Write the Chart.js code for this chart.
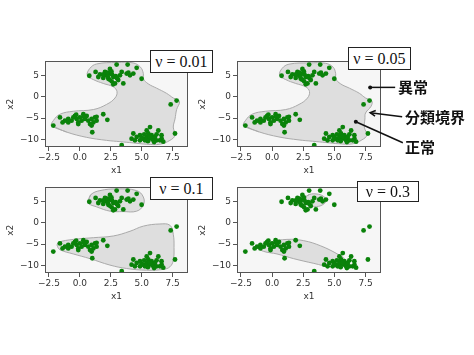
<!DOCTYPE html>
<html><head><meta charset="utf-8">
<script src="https://cdn.jsdelivr.net/npm/chart.js@4/dist/chart.umd.min.js"></script>
<style>
body{margin:0;width:474px;height:355px;background:#fff;position:relative;overflow:hidden;}
canvas{position:absolute;}
.nu{position:absolute;background:#fff;border:1px solid #222;font-family:'Liberation Serif',serif;font-size:16px;text-align:center;box-sizing:border-box;color:#111;white-space:nowrap}
.jp{position:absolute;font-family:'Noto Sans CJK JP',sans-serif;font-weight:bold;font-size:15px;line-height:15px;color:#111;white-space:nowrap}
</style></head><body>
<script>
// ---- data ----
const xTicks = [-2.5, 0, 2.5, 5, 7.5];
const yTicks = [-10, -5, 0, 5];
const nuLabels = ['ν = 0.01', 'ν = 0.05', 'ν = 0.1', 'ν = 0.3'];
const pointsX1 = [
  2.97,3.86,4.59,1.27,1.62,0.76,2.03,2.16,2.43,2.70,1.89,1.49,2.30,2.57,2.84,2.70,3.51,3.78,4.05,4.32,3.92,3.24,3.38,4.99,2.43,2.2,2.6,2.9,3.1,1.9,2.4,2.55,2.25,3.0,
  -2.15,-1.61,-1.21,-0.94,-0.67,-0.40,-0.26,-0.13,0.0,0.28,0.41,0.55,0.14,-0.13,0.95,1.09,1.22,1.35,0.95,1.35,1.89,2.22,1.0,-0.53,-0.94,0.68,0.82,-1.4,0.3,-0.3,
  3.38,4.32,4.59,4.86,5.13,5.40,5.67,5.53,5.80,6.07,6.34,6.61,6.47,6.74,7.69,4.18,4.45,4.86,5.26,5.53,5.80,5.94,6.20,5.40,5.67,4.99,7.34,7.82,6.2,6.6,5.2,6.0,5.5
];
const pointsX2 = [
  7.5,7.5,6.74,5.8,5.2,4.9,5.8,5.0,5.4,4.6,4.4,4.6,4.2,3.6,3.1,2.9,3.1,5.4,5.0,5.4,5.6,5.0,5.8,4.2,6.5,5.6,5.2,4.8,3.9,5.2,4.0,5.9,4.7,4.3,
  -6.74,-4.85,-5.6,-5.2,-5.6,-4.5,-5.2,-6.0,-4.85,-4.1,-5.2,-4.5,-5.6,-6.4,-5.2,-6.0,-4.85,-5.6,-6.74,-4.7,-4.1,-5.4,-8.3,-4.85,-6.0,-5.6,-6.4,-6.0,-4.6,-4.2,
  -11.3,-8.6,-9.4,-9.0,-9.8,-7.9,-7.1,-8.6,-9.0,-9.4,-7.9,-9.8,-10.2,-10.5,-8.6,-9.8,-10.2,-10.2,-10.2,-9.8,-9.8,-10.2,-10.2,-9.4,-9.4,-9.6,-1.8,-0.9,-8.8,-9.0,-8.8,-10.6,-10.4
];
const boundaryNu001 = [[-2.28,-6.74],[-1.07,-8.26],[0.55,-9.5],[2.16,-10.2],[3.24,-10.5],[4.32,-10.8],[5.40,-11.1],[6.47,-11.1],[7.28,-10.2],[7.69,-9.0],[7.55,-7.1],[7.69,-5.2],[7.82,-3.0],[8.05,-1.1],[7.55,-0.3],[7.0,0.8],[6.2,2.0],[5.53,3.0],[5.13,4.2],[5.13,5.4],[4.9,6.9],[4.3,7.9],[3.0,8.0],[1.35,7.65],[0.8,6.6],[0.6,5.0],[1.09,4.0],[1.89,3.1],[2.70,2.3],[3.0,1.2],[2.84,-0.3],[2.16,-1.8],[1.09,-3.0],[-0.53,-3.4],[-1.61,-4.1],[-2.15,-5.6]];
const boundaryNu005 = [[-2.28,-6.74],[-1.07,-8.2],[0.55,-9.4],[2.16,-10.1],[3.24,-10.4],[4.32,-10.7],[5.40,-11.0],[6.47,-11.0],[7.2,-10.1],[7.6,-9.0],[7.4,-7.1],[7.45,-5.2],[7.5,-3.8],[7.95,-2.2],[8.0,-1.0],[7.5,-0.3],[7.0,0.8],[6.2,2.0],[5.5,3.0],[5.1,4.2],[5.1,5.4],[4.9,6.9],[4.3,7.8],[3.0,7.9],[1.35,7.6],[0.8,6.6],[0.6,5.0],[1.09,4.0],[1.89,3.1],[2.70,2.3],[3.0,1.2],[2.84,-0.3],[2.16,-1.8],[1.09,-3.0],[-0.53,-3.4],[-1.61,-4.1],[-2.15,-5.6]];
const boundaryNu01Top = [[0.68,5.2],[0.9,6.6],[1.62,7.5],[2.97,7.9],[4.59,7.5],[5.13,6.0],[5.13,4.1],[4.59,2.7],[3.51,2.6],[2.43,2.7],[1.35,3.7],[0.68,4.5]];
const boundaryNu01Bottom = [[-1.83,-5.3],[-1.75,-4.6],[-0.53,-3.9],[1.09,-3.5],[2.70,-3.1],[4.05,-2.0],[5.13,-0.8],[6.47,-0.3],[7.28,-0.6],[7.55,-2.7],[7.61,-5.8],[7.55,-8.8],[7.28,-10.3],[6.74,-10.9],[5.40,-11.1],[3.78,-10.7],[2.43,-9.9],[0.82,-8.4],[-0.53,-7.3],[-1.61,-6.3]];
const boundaryNu03Top = [[2.6,5.8],[3.0,6.6],[3.6,6.7],[4.1,6.2],[4.35,5.2],[4.0,4.1],[3.4,3.8],[2.9,4.3],[2.6,5.1]];
const boundaryNu03Bottom = [[-0.96,-6.1],[-0.15,-4.6],[1.19,-3.9],[2.54,-4.2],[3.89,-5.4],[5.24,-7.3],[5.77,-8.4],[5.64,-9.9],[4.70,-10.3],[3.35,-9.5],[1.73,-8.4],[0.39,-7.3],[-0.69,-6.7]];
const annotLabels = ['異常', '分類境界', '正常'];
const abnormalAnchor = [7.87, 2.18];
const boundaryAnchor = [7.87, -3.73];
const normalAnchor = [6.72, -5.84];

// ---- drawing ----
const FONT = 'DejaVu Sans';
const fmtX = v => Number(v).toFixed(1).replace('-', '\u2212');
const fmtY = v => String(v).replace('-', '\u2212');

const framePlugin = {
  id: 'frame',
  beforeDatasetsDraw(chart) {
    const a = chart.chartArea, ctx = chart.ctx;
    ctx.save(); ctx.fillStyle = '#f6f6f6';
    ctx.fillRect(a.left, a.top, a.right - a.left, a.bottom - a.top); ctx.restore();
  },
  afterDatasetsDraw(chart) {
    const a = chart.chartArea, ctx = chart.ctx;
    ctx.save(); ctx.strokeStyle = '#555'; ctx.lineWidth = 1;
    ctx.strokeRect(Math.round(a.left) + 0.5, Math.round(a.top) + 0.5, Math.round(a.right - a.left) - 1, Math.round(a.bottom - a.top) - 1);
    ctx.restore();
  }
};

const annotPlugin = {
  id: 'annot',
  afterDraw(chart) {
    const {ctx, scales: {x, y}} = chart;
    ctx.save(); ctx.strokeStyle = '#111'; ctx.fillStyle = '#111'; ctx.lineWidth = 1.5;
    // abnormal
    let px = x.getPixelForValue(abnormalAnchor[0]), py = y.getPixelForValue(abnormalAnchor[1]);
    ctx.beginPath(); ctx.arc(px, py, 2, 0, Math.PI * 2); ctx.fill();
    ctx.beginPath(); ctx.moveTo(px, py); ctx.lineTo(px + 25, py); ctx.stroke();
    // boundary arrow
    px = x.getPixelForValue(boundaryAnchor[0]); py = y.getPixelForValue(boundaryAnchor[1]);
    const sx = px + 32, sy = py + 4;
    ctx.beginPath(); ctx.moveTo(sx, sy); ctx.lineTo(px, py); ctx.stroke();
    const ang = Math.atan2(py - sy, px - sx);
    ctx.beginPath();
    ctx.moveTo(px - 6 * Math.cos(ang - 0.5), py - 6 * Math.sin(ang - 0.5));
    ctx.lineTo(px, py);
    ctx.lineTo(px - 6 * Math.cos(ang + 0.5), py - 6 * Math.sin(ang + 0.5));
    ctx.stroke();
    // normal
    px = x.getPixelForValue(normalAnchor[0]); py = y.getPixelForValue(normalAnchor[1]);
    ctx.beginPath(); ctx.arc(px, py, 2, 0, Math.PI * 2); ctx.fill();
    ctx.beginPath(); ctx.moveTo(px, py); ctx.lineTo(px + 47, py + 21); ctx.stroke();
    ctx.restore();
  }
};

function makePanel(cfg, boundaries, extraPlugins) {
  const c = document.createElement('canvas');
  const w = 45 + cfg.plotW + cfg.padR, h = 5 + cfg.plotH + 29;
  c.width = w; c.height = h;
  c.style.left = (cfg.left - 45) + 'px'; c.style.top = (cfg.top - 5) + 'px';
  c.style.width = w + 'px'; c.style.height = h + 'px';
  document.body.appendChild(c);
  const datasets = [{
    data: pointsX1.map((v, i) => ({x: v, y: pointsX2[i]})),
    backgroundColor: '#0a820a', borderColor: '#0a820a', pointRadius: 2.4, borderWidth: 0, order: 1
  }];
  boundaries.forEach(b => datasets.push({
    data: b.concat([b[0], b[1]]).map(p => ({x: p[0], y: p[1]})),
    showLine: true, pointRadius: 0, borderColor: '#aaaaaa', borderWidth: 1,
    backgroundColor: '#dedede', fill: 'shape', tension: 0.4, order: 2
  }));
  const tickFont = {family: FONT, size: 9};
  new Chart(c, {
    type: 'scatter',
    data: {datasets},
    options: {
      responsive: false, animation: false, devicePixelRatio: 1,
      layout: {padding: {top: 5, right: cfg.padR, left: 0, bottom: 0}},
      plugins: {legend: {display: false}, tooltip: {enabled: false}},
      scales: {
        x: {
          type: 'linear', min: -2.82, max: 8.74,
          afterBuildTicks: s => { s.ticks = xTicks.map(v => ({value: v})); },
          afterFit: s => { s.height = 29; },
          ticks: {callback: v => fmtX(v), font: tickFont, color: '#333', padding: 1, maxRotation: 0, autoSkip: false},
          grid: {display: true, drawOnChartArea: false, drawTicks: true, tickLength: 4, color: '#555'},
          border: {display: false},
          title: {display: true, text: 'x1', font: tickFont, color: '#333', padding: 0}
        },
        y: {
          type: 'linear', min: -11.75, max: 8.25,
          afterBuildTicks: s => { s.ticks = yTicks.map(v => ({value: v})); },
          afterFit: s => { s.width = 45; },
          ticks: {callback: v => fmtY(v), font: tickFont, color: '#333', padding: 2, autoSkip: false},
          grid: {display: true, drawOnChartArea: false, drawTicks: true, tickLength: 4, color: '#555'},
          border: {display: false},
          title: {display: true, text: 'x2', font: tickFont, color: '#333', padding: {top: 5, bottom: 0}}
        }
      }
    },
    plugins: [framePlugin].concat(extraPlugins || [])
  });
}

makePanel({left: 45, top: 59, plotW: 143, plotH: 88, padR: 5}, [boundaryNu001]);
makePanel({left: 237, top: 59, plotW: 144, plotH: 88, padR: 93}, [boundaryNu005], [annotPlugin]);
makePanel({left: 45, top: 185, plotW: 143, plotH: 88, padR: 5}, [boundaryNu01Top, boundaryNu01Bottom]);
makePanel({left: 237, top: 185, plotW: 144, plotH: 88, padR: 5}, [boundaryNu03Top, boundaryNu03Bottom]);

// nu labels
const boxes = [[150, 50, 63, 23], [348, 47, 63, 23], [150, 177, 63, 23], [357, 181, 62, 21]];
nuLabels.forEach((t, i) => {
  const d = document.createElement('div'); d.className = 'nu'; d.textContent = t;
  const b = boxes[i];
  d.style.left = b[0] + 'px'; d.style.top = b[1] + 'px'; d.style.width = b[2] + 'px'; d.style.height = b[3] + 'px';
  d.style.lineHeight = (b[3] - 2) + 'px';
  document.body.appendChild(d);
});
const jpPos = [[398, 79], [405, 109], [405, 139]];
annotLabels.forEach((t, i) => {
  const d = document.createElement('div'); d.className = 'jp'; d.textContent = t;
  d.style.left = jpPos[i][0] + 'px'; d.style.top = jpPos[i][1] + 'px';
  document.body.appendChild(d);
});
</script>
</body></html>
